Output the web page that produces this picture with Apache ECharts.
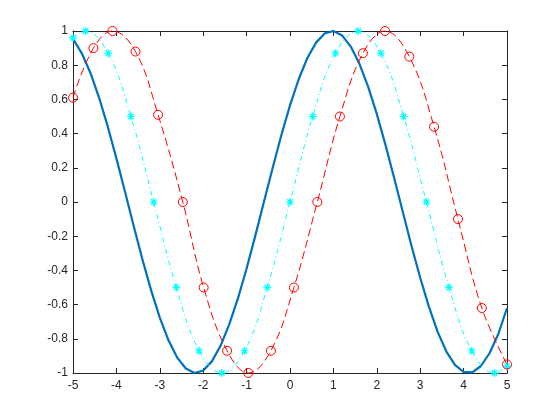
<!DOCTYPE html>
<html>
<head>
<meta charset="utf-8">
<script src="https://cdn.jsdelivr.net/npm/echarts@6/dist/echarts.min.js"></script>
<style>
html,body{margin:0;padding:0;background:#fff;}
#chart{width:560px;height:420px;}
</style>
</head>
<body>
<div id="chart"></div>
<script>
// Blue solid curve
var blueX = [-5,-4.8,-4.6,-4.4,-4.2,-4,-3.8,-3.6,-3.4,-3.2,-3,-2.8,-2.6,-2.4,-2.2,-2,-1.8,-1.6,-1.4,-1.2,-1,-0.8,-0.6,-0.4,-0.2,0,0.2,0.4,0.6,0.8,1,1.2,1.4,1.6,1.8,2,2.2,2.4,2.6,2.8,3,3.2,3.4,3.6,3.8,4,4.2,4.4,4.6,4.8,5];
var blueY = [0.955,0.871,0.756,0.611,0.442,0.255,0.058,-0.142,-0.336,-0.517,-0.676,-0.809,-0.910,-0.974,-1.000,-0.985,-0.932,-0.841,-0.716,-0.564,-0.389,-0.198,0.001,0.199,0.390,0.565,0.718,0.842,0.932,0.986,1.000,0.974,0.909,0.808,0.675,0.515,0.334,0.140,-0.059,-0.257,-0.443,-0.612,-0.758,-0.873,-0.952,-0.994,-0.996,-0.959,-0.883,-0.772,-0.620];

// Cyan dash-dot with asterisks
var cyanX = [-5,-4.712,-4.189,-3.665,-3.142,-2.618,-2.094,-1.571,-1.047,-0.524,0,0.524,1.047,1.571,2.094,2.618,3.142,3.665,4.189,4.712,5];
var cyanY = [0.96,1,0.87,0.5,0,-0.5,-0.87,-1,-0.87,-0.5,0,0.5,0.87,1,0.87,0.5,0,-0.5,-0.87,-1,-0.96];

// Red dashed with circles
var redX = [-5,-4.53,-4.09,-3.56,-3.04,-2.47,-1.99,-1.45,-0.96,-0.44,0.09,0.63,1.15,1.68,2.19,2.75,3.32,3.87,4.42,5];
var redY = [0.61,0.90,1.0,0.88,0.51,0,-0.5,-0.87,-1,-0.87,-0.5,0,0.5,0.87,1,0.85,0.44,-0.1,-0.62,-0.95];

// Tick labels
var xTicks = ['-5','-4','-3','-2','-1','0','1','2','3','4','5'];
var yTicks = ['-1','-0.8','-0.6','-0.4','-0.2','0','0.2','0.4','0.6','0.8','1'];

function pairs(xs, ys){ return xs.map(function(x,i){ return [x, ys[i]]; }); }

var axisColor = '#262626';
var font = 'Liberation Sans, Arial, Helvetica, sans-serif';

function xAxisDef(pos, showLabel){
  return {
    type:'value', position:pos, min:-5, max:5, interval:1,
    axisLine:{show:true, onZero:false, lineStyle:{color:axisColor, width:1}},
    axisTick:{show:true, inside:true, length:5, lineStyle:{color:axisColor, width:1}},
    axisLabel:{show:showLabel, color:axisColor, fontSize:12, fontFamily:font, margin:7,
      formatter:function(v){ return xTicks[Math.round(v+5)]; }},
    splitLine:{show:false}
  };
}
function yAxisDef(pos, showLabel){
  return {
    type:'value', position:pos, min:-1, max:1, interval:0.2,
    axisLine:{show:true, onZero:false, lineStyle:{color:axisColor, width:1}},
    axisTick:{show:true, inside:true, length:5, lineStyle:{color:axisColor, width:1}},
    axisLabel:{show:showLabel, color:axisColor, fontSize:12, fontFamily:font, margin:5,
      formatter:function(v){ return yTicks[Math.round((v+1)*5)]; }},
    splitLine:{show:false}
  };
}

var asterisk = 'path://M5,0L5,10M0,5L10,5M1.6,1.6L8.4,8.4M1.6,8.4L8.4,1.6';

var chart = echarts.init(document.getElementById('chart'), null, {renderer:'canvas'});
chart.setOption({
  animation:false,
  backgroundColor:'#fff',
  grid:{left:73, right:53, top:31, bottom:47, containLabel:false},
  xAxis:[xAxisDef('bottom', true), xAxisDef('top', false)],
  yAxis:[yAxisDef('left', true), yAxisDef('right', false)],
  series:[
    {
      type:'line', xAxisIndex:0, yAxisIndex:0, data:pairs(blueX, blueY),
      smooth:false, showSymbol:false, clip:false,
      lineStyle:{color:'#0072BD', width:2.2, join:'round'}
    },
    {
      type:'line', xAxisIndex:0, yAxisIndex:0, data:pairs(cyanX, cyanY),
      smooth:0.4, showSymbol:true, showAllSymbol:true, clip:false,
      symbol:asterisk, symbolSize:8,
      itemStyle:{color:'transparent', borderColor:'#00FFFF', borderWidth:1.2},
      lineStyle:{color:'#00FFFF', width:1, type:[5,3,1,3]}
    },
    {
      type:'line', xAxisIndex:0, yAxisIndex:0, data:pairs(redX, redY),
      smooth:0.4, showSymbol:true, showAllSymbol:true, clip:false,
      symbol:'circle', symbolSize:9,
      itemStyle:{color:'transparent', borderColor:'#FF0000', borderWidth:1},
      lineStyle:{color:'#FF0000', width:1, type:[8,4]}
    }
  ]
});
</script>
</body>
</html>
